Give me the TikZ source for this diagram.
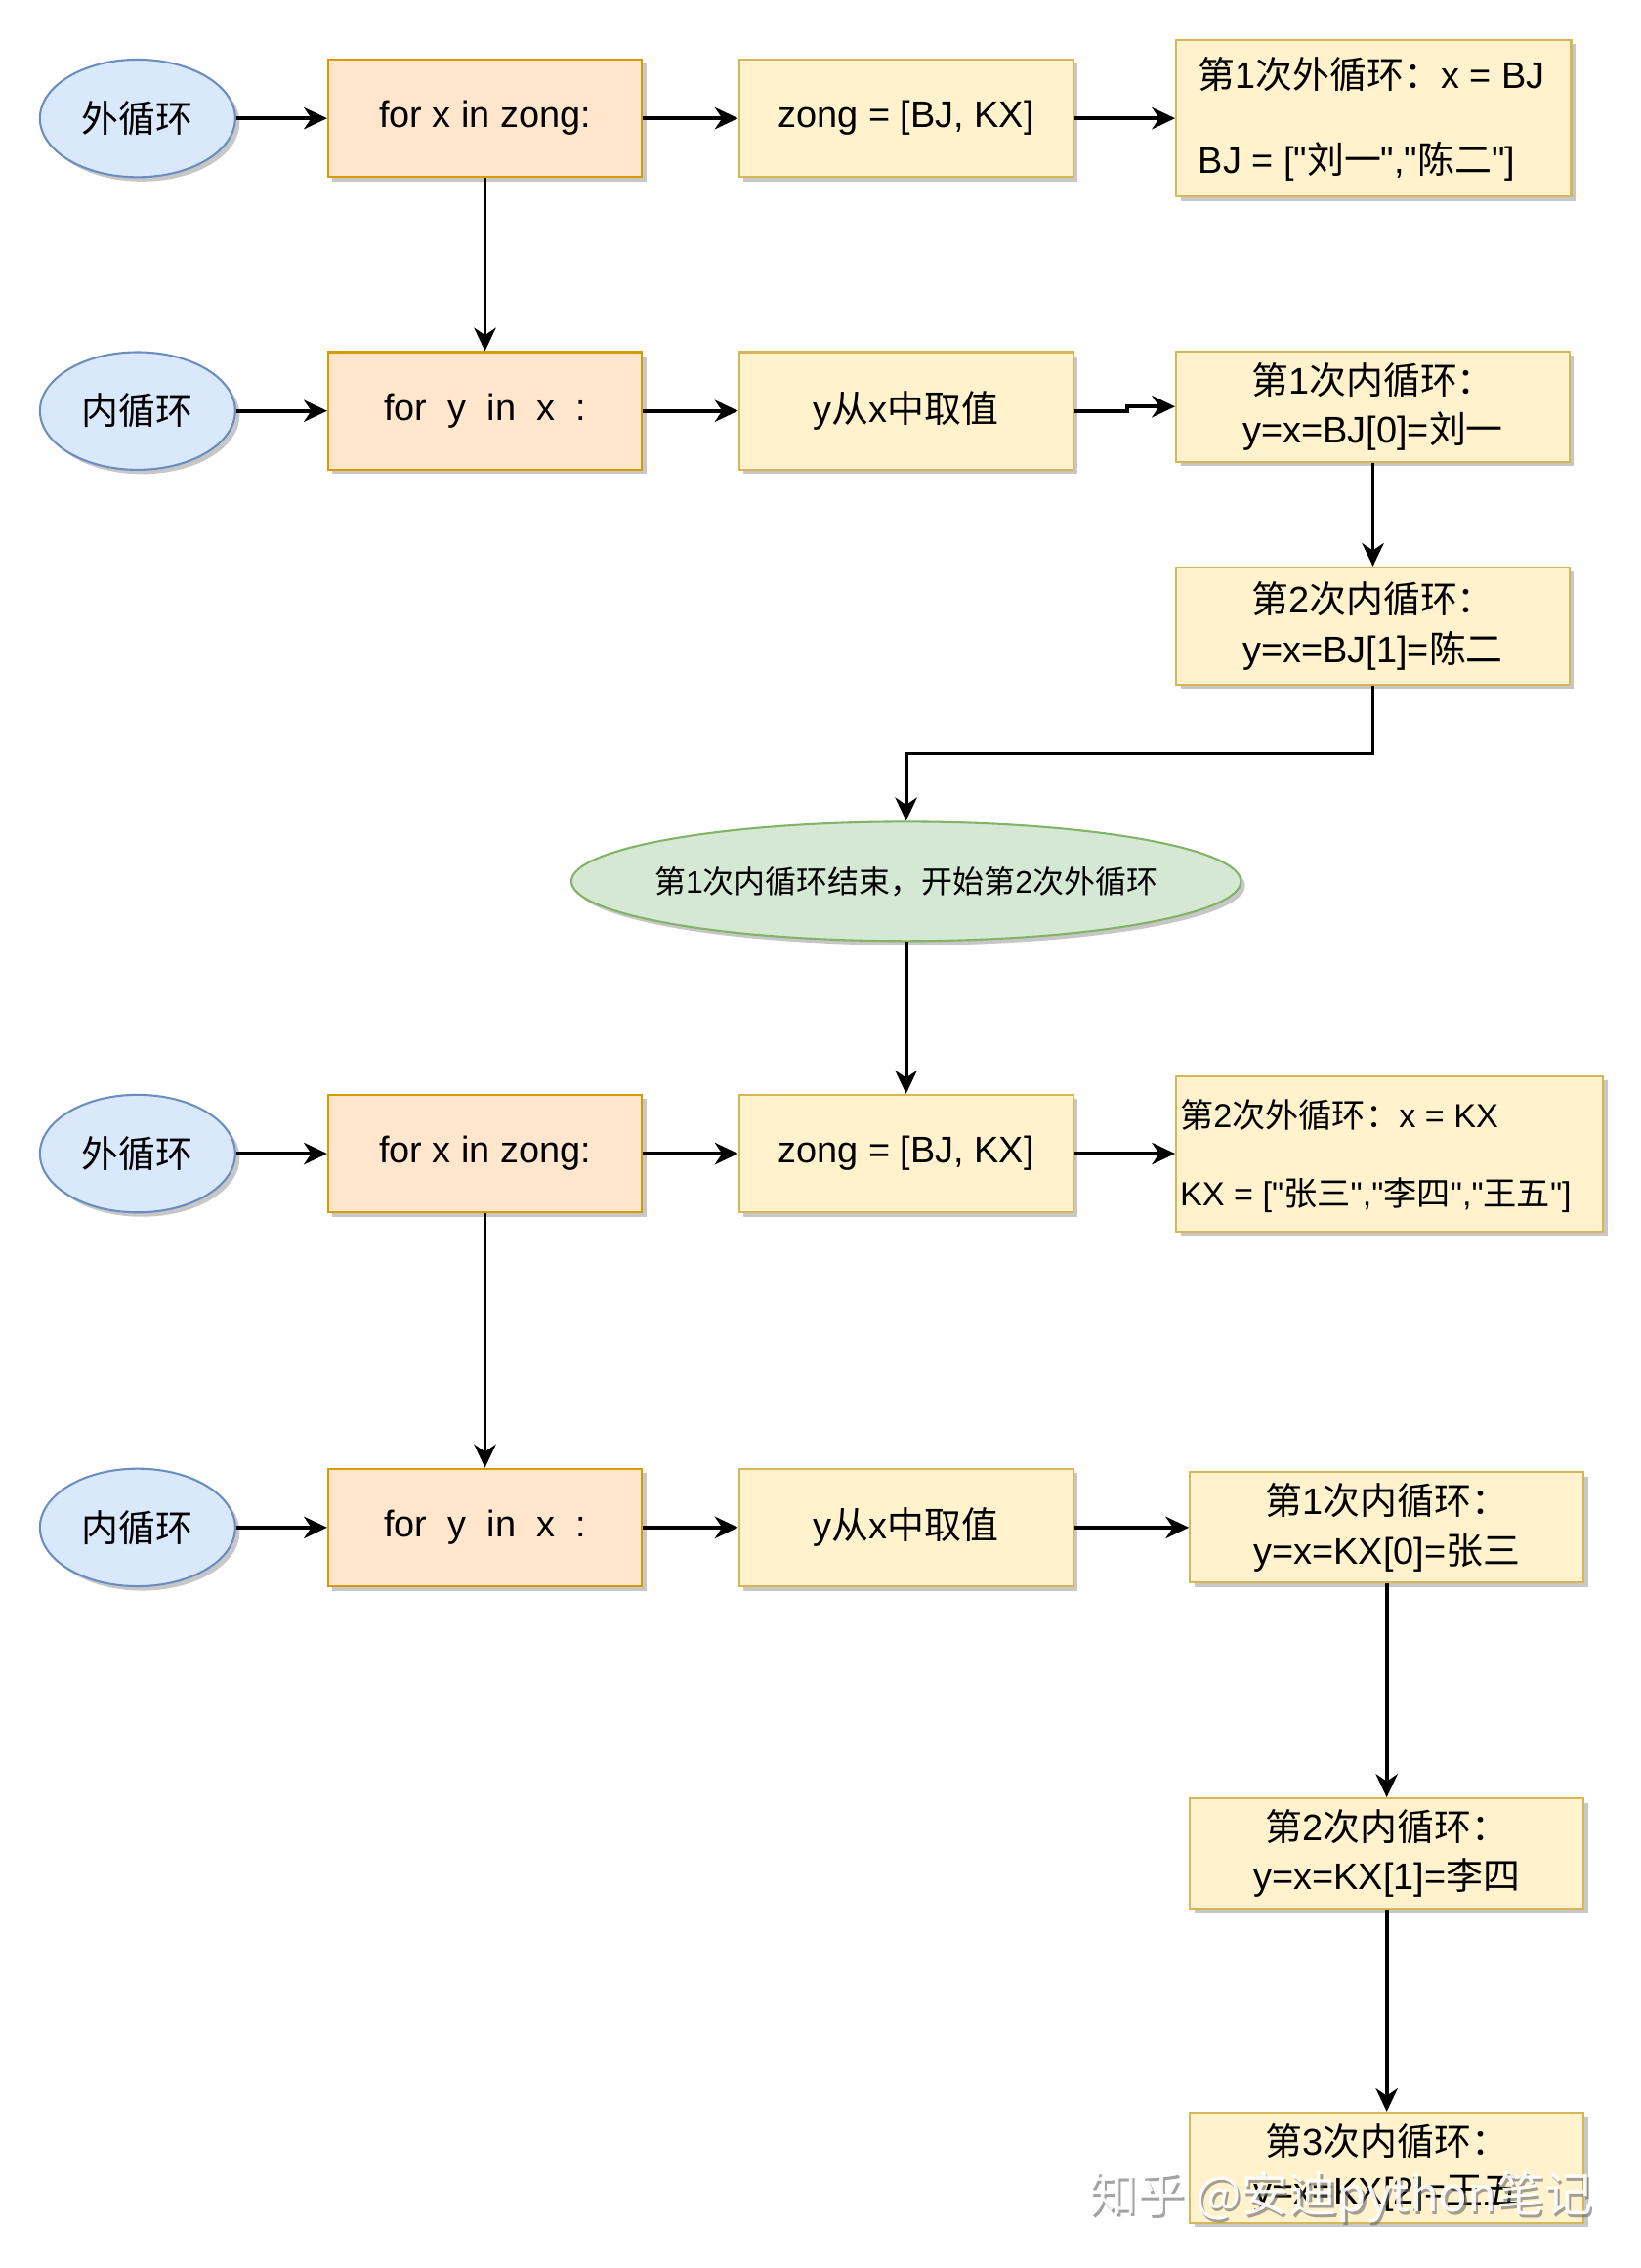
\documentclass[tikz,border=0pt]{standalone}
\usepackage{fontspec}
\setmainfont{Liberation Sans}[Ligatures=TeXOff]
\newfontfamily\cjk{Noto Sans CJK SC}
\newcommand\zh[1]{{\cjk #1}}
\usetikzlibrary{shapes.geometric,arrows.meta,shadows,calc}

\definecolor{orfill}{HTML}{FFE6CC}\definecolor{ordraw}{HTML}{D79B00}
\definecolor{yefill}{HTML}{FFF2CC}\definecolor{yedraw}{HTML}{D6B656}
\definecolor{blfill}{HTML}{DAE8FC}\definecolor{bldraw}{HTML}{6C8EBF}
\definecolor{grfill}{HTML}{D5E8D4}\definecolor{grdraw}{HTML}{82B366}

\tikzset{
  dbox/.style={line width=1.4pt, inner sep=0pt, align=center,
    drop shadow={shadow xshift=3pt,shadow yshift=-3pt,fill=black,opacity=0.22},
    font=\fontsize{25.5}{34}\selectfont},
  blueell/.style={dbox, ellipse, fill=blfill, draw=bldraw, minimum width=134.5pt, minimum height=81pt},
  orbox/.style={dbox, rectangle, fill=orfill, draw=ordraw, minimum width=216pt, minimum height=81pt},
  yebox/.style={dbox, rectangle, fill=yefill, draw=yedraw},
  midbox/.style={yebox, minimum width=230pt, minimum height=81pt},
  rbox/.style={yebox, minimum width=271pt, minimum height=76pt},
  greenell/.style={dbox, ellipse, fill=grfill, draw=grdraw, minimum width=461pt, minimum height=82pt},
  conn/.style={line width=2.6pt, -{Stealth[length=16pt,width=15pt,inset=5pt]}},
  ltxt/.style={inner sep=0pt, anchor=west, font=\fontsize{25.5}{34}\selectfont},
  stxt/.style={inner sep=0pt, anchor=west, font=\fontsize{23}{28}\selectfont},
  wmark/.style={inner sep=0pt, anchor=west, font=\cjk\fontsize{33}{33}\selectfont}
}

\begin{document}
\begin{tikzpicture}[x=1pt,y=-1pt]
\useasboundingbox (0,0) rectangle (1130,1562);
\fill[white] (0,0) rectangle (1130,1562);

% ---------- row 1 ----------
\node[blueell] (o1) at (94.75,81.5) {\zh{外循环}};
\node[orbox] (f1) at (334,81.5) {for x in zong:};
\node[midbox] (z1) at (624,81.5) {zong = [BJ, KX]};
\node[yebox, minimum width=272pt, minimum height=108pt] (r1) at (946,81.5) {};
\node[ltxt] (r1a) at (825,51) {\zh{第}1\zh{次外循环：}x = BJ};
\node[ltxt] (r1b) at (825,111) {BJ = ["\zh{刘一}","\zh{陈二}"]};

% ---------- row 2 ----------
\node[blueell] (o2) at (94.75,283) {\zh{内循环}};
\node[orbox] (f2) at (334,283) {for\ \ y\ \ in\ \ x\ \ :};
\node[midbox] (y2) at (624,283) {y\zh{从}x\zh{中取值}};
\node[rbox] (r2) at (945.5,280) {\zh{第}1\zh{次内循环：}\\y=x=BJ[0]=\zh{刘一}};
\node[rbox, minimum height=80.5pt] (r3) at (945.5,431) {\zh{第}2\zh{次内循环：}\\y=x=BJ[1]=\zh{陈二}};

% ---------- middle ----------
\node[greenell] (g) at (624,607) {};
\node[inner sep=0pt, font=\fontsize{21.5}{26}\selectfont] (gt) at (g.center) {\zh{第}1\zh{次内循环结束，开始第}2\zh{次外循环}};
\coordinate (bend) at (624,519);

% ---------- row 3 ----------
\node[blueell] (o3) at (94.75,794.5) {\zh{外循环}};
\node[orbox] (f3) at (334,794.5) {for x in zong:};
\node[midbox] (z3) at (624,794.5) {zong = [BJ, KX]};
\node[yebox, minimum width=294pt, minimum height=107pt] (r4) at (957,794.5) {};
\node[stxt] (r4a) at (812.5,768) {\zh{第}2\zh{次外循环：}x = KX};
\node[stxt] (r4b) at (812.5,823) {KX = ["\zh{张三}","\zh{李四}","\zh{王五}"]};

% ---------- row 4 ----------
\node[blueell] (o4) at (94.75,1052) {\zh{内循环}};
\node[orbox] (f4) at (334,1052) {for\ \ y\ \ in\ \ x\ \ :};
\node[midbox] (y4) at (624,1052) {y\zh{从}x\zh{中取值}};
\node[rbox] (r5) at (955,1052) {\zh{第}1\zh{次内循环：}\\y=x=KX[0]=\zh{张三}};
\node[rbox] (r6) at (955,1276.5) {\zh{第}2\zh{次内循环：}\\y=x=KX[1]=\zh{李四}};
\node[rbox] (r7) at (955,1493) {\zh{第}3\zh{次内循环：}\\y=x=KX[2]=\zh{王五}};

% ---------- connectors ----------
\draw[conn] (o1) -- (f1);
\draw[conn] (f1) -- (z1);
\draw[conn] (z1) -- (r1);
\draw[conn] (f1) -- (f2);
\draw[conn] (o2) -- (f2);
\draw[conn] (f2) -- (y2);
\draw[conn] (y2.east) -- ++(36.5,0) |- (r2.west);
\draw[conn] (r2) -- (r3);
\draw[conn] (r3.south) |- (bend) -- (g.north);
\draw[conn] (g.south) -- (z3.north);
\draw[conn] (o3) -- (f3);
\draw[conn] (f3) -- (z3);
\draw[conn] (z3) -- (r4);
\draw[conn] (f3) -- (f4);
\draw[conn] (o4) -- (f4);
\draw[conn] (f4) -- (y4);
\draw[conn] (y4) -- (r5);
\draw[conn] (r5) -- (r6);
\draw[conn] (r6) -- (r7);

% ---------- watermark ----------
\node[wmark, text=black!60, opacity=0.6] (wms) at (751.5,1515) {知乎 @安迪python笔记};
\node[wmark, text=white, opacity=0.92] (wm) at (750,1513) {知乎 @安迪python笔记};
\end{tikzpicture}
\end{document}
